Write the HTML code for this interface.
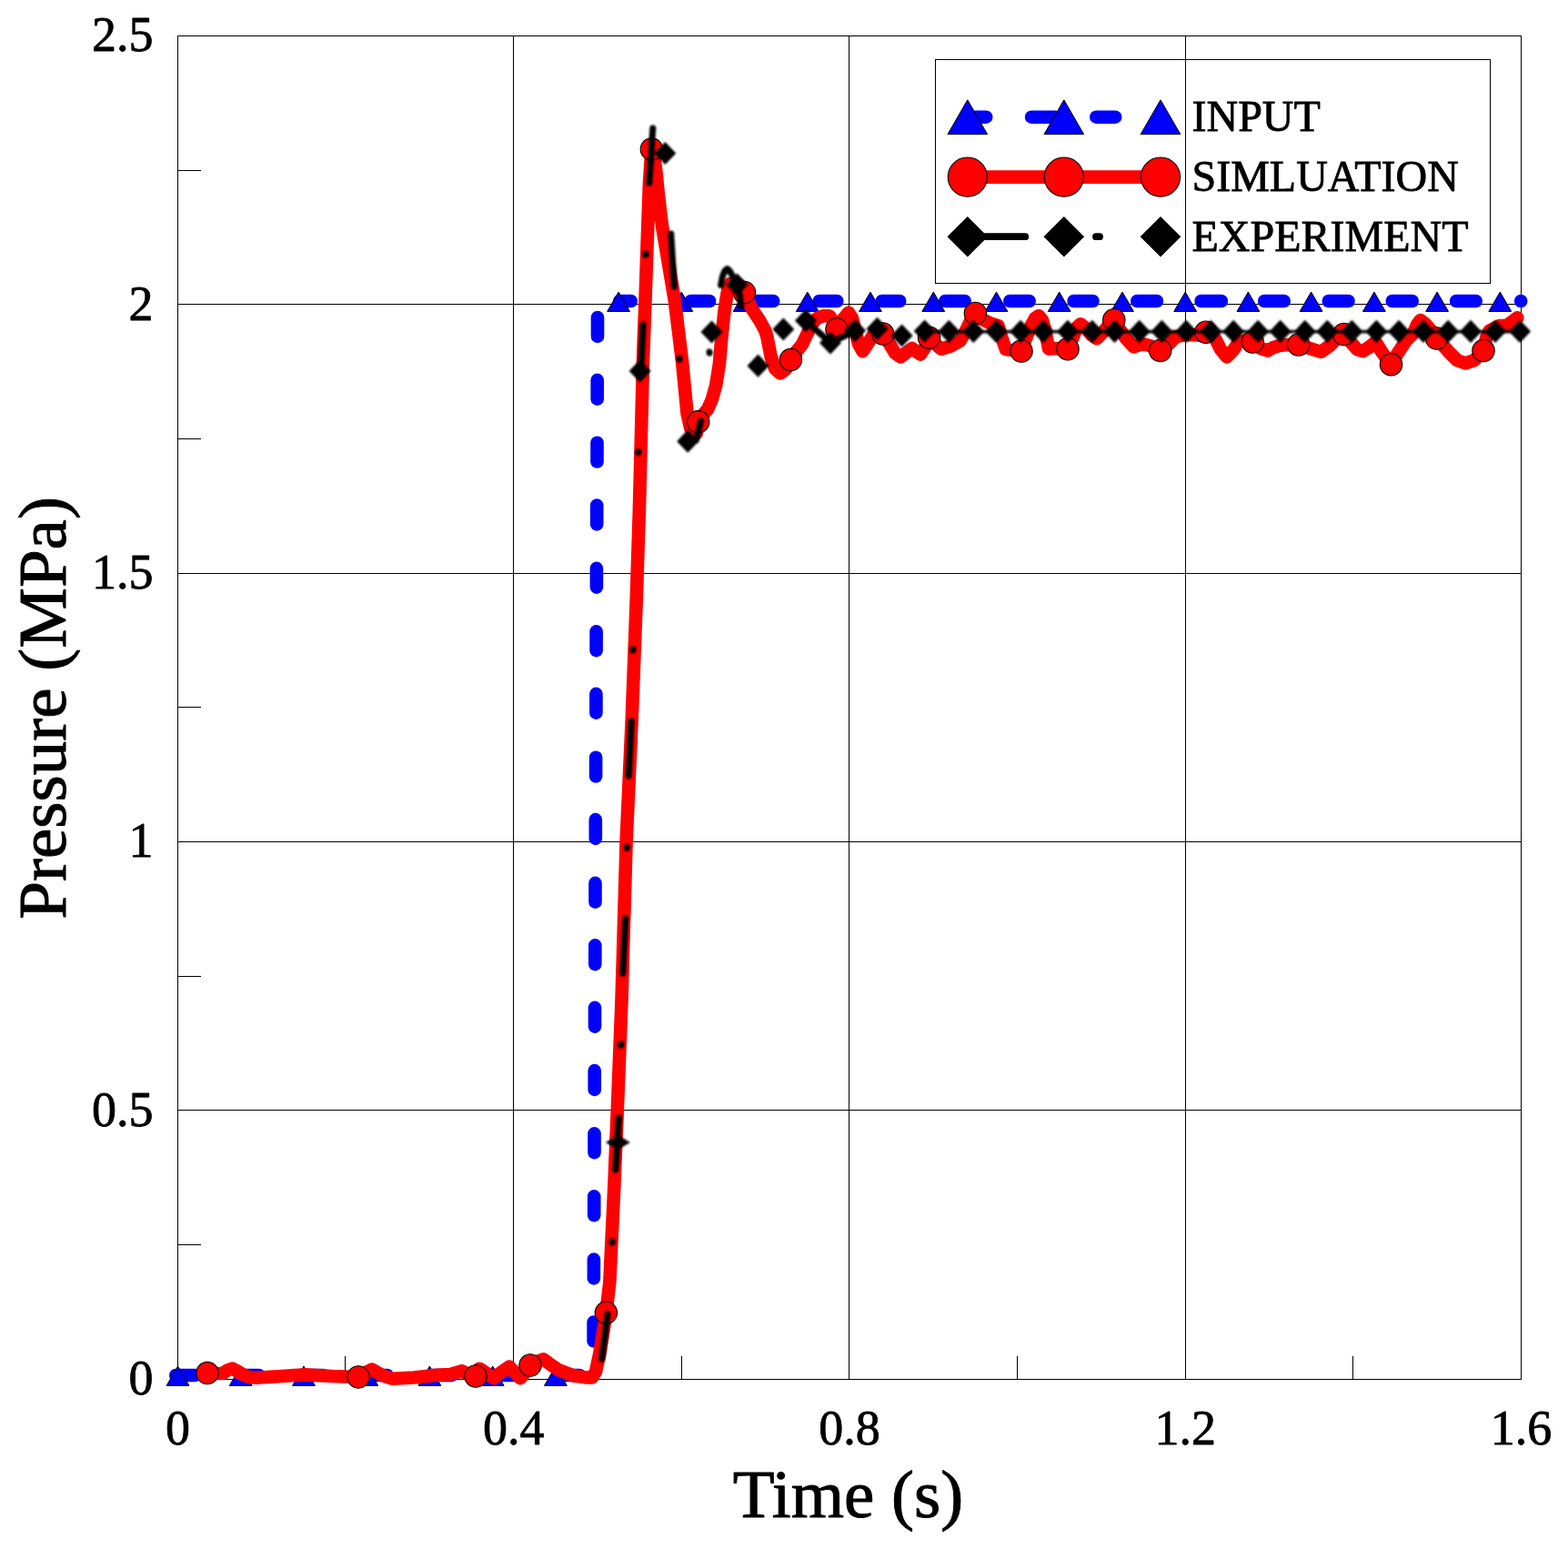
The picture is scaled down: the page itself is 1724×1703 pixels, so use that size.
<!DOCTYPE html>
<html lang="en"><head><meta charset="utf-8"><title>Pressure vs Time</title>
<style>
html,body{margin:0;padding:0;background:#fff;}
body{width:1724px;height:1703px;overflow:hidden;}
svg{display:block;}
text{font-family:"Liberation Serif","Times New Roman",serif;fill:#000;stroke:#000;stroke-width:0.8px;stroke-linejoin:round;}
.axis{stroke-width:1px;}
.tick{font-size:54px;}
.axis{font-size:75px;}
.leg{font-size:48px;}
.grid line,.grid rect{stroke:#000;stroke-width:1;fill:none;shape-rendering:crispEdges;}
.blue{stroke:#0000ff;stroke-width:14.6;stroke-linecap:round;fill:none;}
.red{stroke:#ff0000;stroke-width:14.6;stroke-linecap:round;stroke-linejoin:round;fill:none;}
.blk{stroke:#000;stroke-width:7;stroke-linecap:round;stroke-linejoin:round;fill:none;}
.tri{fill:#0000ff;stroke:#000;stroke-width:1;}
.cir{fill:#ff0000;stroke:#000;stroke-width:1.1;}
.dia{fill:#000;stroke:none;}
</style></head><body>
<svg width="1724" height="1703" viewBox="0 0 1724 1703" role="img" aria-label="Pressure versus time chart">
<defs><filter id="soft" x="600" y="100" width="1124" height="1450" filterUnits="userSpaceOnUse"><feGaussianBlur stdDeviation="1.1"/></filter></defs>
<rect x="0" y="0" width="1724" height="1703" fill="#fff"/>
<g class="grid">
<rect x="195.5" y="39.5" width="1477.0" height="1477.0"/>
<line x1="564.5" y1="39.5" x2="564.5" y2="1516.5"/>
<line x1="933.5" y1="39.5" x2="933.5" y2="1516.5"/>
<line x1="1303.5" y1="39.5" x2="1303.5" y2="1516.5"/>
<line x1="195.5" y1="334.5" x2="1672.5" y2="334.5"/>
<line x1="195.5" y1="630.5" x2="1672.5" y2="630.5"/>
<line x1="195.5" y1="925.5" x2="1672.5" y2="925.5"/>
<line x1="195.5" y1="1220.5" x2="1672.5" y2="1220.5"/>
<line x1="379.5" y1="1490.5" x2="379.5" y2="1516.5"/>
<line x1="749.5" y1="1490.5" x2="749.5" y2="1516.5"/>
<line x1="1118.5" y1="1490.5" x2="1118.5" y2="1516.5"/>
<line x1="1487.5" y1="1490.5" x2="1487.5" y2="1516.5"/>
<line x1="195.5" y1="187.5" x2="220.5" y2="187.5"/>
<line x1="195.5" y1="482.5" x2="220.5" y2="482.5"/>
<line x1="195.5" y1="777.5" x2="220.5" y2="777.5"/>
<line x1="195.5" y1="1073.5" x2="220.5" y2="1073.5"/>
<line x1="195.5" y1="1368.5" x2="220.5" y2="1368.5"/>
</g>
<g class="tick" text-anchor="end">
<text x="168.5" y="56.2">2.5</text>
<text x="168.5" y="351.6">2</text>
<text x="168.5" y="647.0">1.5</text>
<text x="168.5" y="942.4">1</text>
<text x="168.5" y="1237.8">0.5</text>
<text x="168.5" y="1533.2">0</text>
</g>
<g class="tick" text-anchor="middle">
<text x="195.5" y="1588.3">0</text>
<text x="564.8" y="1588.3">0.4</text>
<text x="934.0" y="1588.3">0.8</text>
<text x="1303.2" y="1588.3">1.2</text>
<text x="1672.5" y="1588.3">1.6</text>
</g>
<text class="axis" text-anchor="middle" x="932.4" y="1668.2">Time (s)</text>
<text class="axis" text-anchor="middle" transform="translate(72.3 778.4) rotate(-90)">Pressure (MPa)</text>
<g id="input">
<line class="blue" x1="193.3" y1="1512.0" x2="214.2" y2="1512.0"/>
<line class="blue" x1="263.8" y1="1512.0" x2="284.7" y2="1512.0"/>
<line class="blue" x1="334.3" y1="1512.0" x2="355.2" y2="1512.0"/>
<line class="blue" x1="404.8" y1="1512.0" x2="425.7" y2="1512.0"/>
<line class="blue" x1="475.3" y1="1512.0" x2="496.2" y2="1512.0"/>
<line class="blue" x1="545.8" y1="1512.0" x2="566.7" y2="1512.0"/>
<line class="blue" x1="616.3" y1="1512.0" x2="637.2" y2="1512.0"/>
<line class="blue" x1="657.0" y1="349.0" x2="657.0" y2="369.8"/>
<line class="blue" x1="656.7" y1="417.9" x2="656.7" y2="438.7"/>
<line class="blue" x1="656.5" y1="486.7" x2="656.5" y2="507.5"/>
<line class="blue" x1="656.2" y1="555.6" x2="656.2" y2="576.4"/>
<line class="blue" x1="655.9" y1="624.8" x2="655.9" y2="645.6"/>
<line class="blue" x1="655.6" y1="694.4" x2="655.6" y2="715.2"/>
<line class="blue" x1="655.4" y1="762.9" x2="655.4" y2="783.7"/>
<line class="blue" x1="655.1" y1="832.7" x2="655.1" y2="853.5"/>
<line class="blue" x1="654.8" y1="901.1" x2="654.8" y2="921.9"/>
<line class="blue" x1="654.5" y1="970.9" x2="654.5" y2="991.7"/>
<line class="blue" x1="654.3" y1="1039.3" x2="654.3" y2="1060.1"/>
<line class="blue" x1="654.0" y1="1107.8" x2="654.0" y2="1128.6"/>
<line class="blue" x1="653.7" y1="1177.1" x2="653.7" y2="1197.9"/>
<line class="blue" x1="653.5" y1="1246.3" x2="653.5" y2="1267.1"/>
<line class="blue" x1="653.2" y1="1315.3" x2="653.2" y2="1336.1"/>
<line class="blue" x1="652.9" y1="1384.6" x2="652.9" y2="1405.4"/>
<line class="blue" x1="652.6" y1="1453.6" x2="652.6" y2="1474.4"/>
<line class="blue" x1="681.3" y1="331.0" x2="693.7" y2="331.0"/>
<line class="blue" x1="759.6" y1="331.0" x2="780.1" y2="331.0"/>
<line class="blue" x1="829.3" y1="331.0" x2="850.2" y2="331.0"/>
<line class="blue" x1="900.8" y1="331.0" x2="920.3" y2="331.0"/>
<line class="blue" x1="969.7" y1="331.0" x2="989.2" y2="331.0"/>
<line class="blue" x1="1039.3" y1="331.0" x2="1060.7" y2="331.0"/>
<line class="blue" x1="1110.3" y1="331.0" x2="1131.7" y2="331.0"/>
<line class="blue" x1="1180.6" y1="331.0" x2="1201.5" y2="331.0"/>
<line class="blue" x1="1250.3" y1="331.0" x2="1271.9" y2="331.0"/>
<line class="blue" x1="1320.6" y1="331.0" x2="1342.9" y2="331.0"/>
<line class="blue" x1="1390.2" y1="331.0" x2="1411.7" y2="331.0"/>
<line class="blue" x1="1460.8" y1="331.0" x2="1482.5" y2="331.0"/>
<line class="blue" x1="1530.8" y1="331.0" x2="1552.7" y2="331.0"/>
<line class="blue" x1="1601.1" y1="331.0" x2="1622.7" y2="331.0"/>
<circle cx="1672.2" cy="331.0" r="7.3" fill="#0000ff"/>
<polygon class="tri" points="195.5,1502.0 207.9,1523.4 183.1,1523.4"/>
<polygon class="tri" points="264.7,1502.0 277.1,1523.4 252.3,1523.4"/>
<polygon class="tri" points="334.0,1502.0 346.4,1523.4 321.6,1523.4"/>
<polygon class="tri" points="403.2,1502.0 415.6,1523.4 390.8,1523.4"/>
<polygon class="tri" points="472.4,1502.0 484.8,1523.4 460.0,1523.4"/>
<polygon class="tri" points="541.7,1502.0 554.1,1523.4 529.3,1523.4"/>
<polygon class="tri" points="610.9,1502.0 623.3,1523.4 598.5,1523.4"/>
<polygon class="tri" points="680.1,321.0 692.5,342.4 667.7,342.4"/>
<polygon class="tri" points="749.3,321.0 761.7,342.4 736.9,342.4"/>
<polygon class="tri" points="818.6,321.0 831.0,342.4 806.2,342.4"/>
<polygon class="tri" points="887.8,321.0 900.2,342.4 875.4,342.4"/>
<polygon class="tri" points="957.0,321.0 969.4,342.4 944.6,342.4"/>
<polygon class="tri" points="1026.3,321.0 1038.7,342.4 1013.9,342.4"/>
<polygon class="tri" points="1095.5,321.0 1107.9,342.4 1083.1,342.4"/>
<polygon class="tri" points="1164.7,321.0 1177.1,342.4 1152.3,342.4"/>
<polygon class="tri" points="1234.0,321.0 1246.4,342.4 1221.5,342.4"/>
<polygon class="tri" points="1303.2,321.0 1315.6,342.4 1290.8,342.4"/>
<polygon class="tri" points="1372.4,321.0 1384.8,342.4 1360.0,342.4"/>
<polygon class="tri" points="1441.6,321.0 1454.0,342.4 1429.2,342.4"/>
<polygon class="tri" points="1510.9,321.0 1523.3,342.4 1498.5,342.4"/>
<polygon class="tri" points="1580.1,321.0 1592.5,342.4 1567.7,342.4"/>
<polygon class="tri" points="1649.3,321.0 1661.7,342.4 1636.9,342.4"/>
</g>
<g id="simulation">
<polyline class="red" points="228.0,1509.6 240.0,1510.0 244.8,1510.0 250.0,1506.5 255.3,1504.6 261.0,1507.5 267.4,1511.5 274.0,1514.0 281.0,1514.8 310.0,1513.0 335.0,1511.3 365.0,1513.0 394.0,1514.0 402.0,1509.0 409.0,1505.6 415.0,1509.0 420.0,1512.0 431.0,1515.7 455.0,1514.5 480.0,1511.7 495.0,1511.0 502.0,1509.0 508.0,1507.3 513.0,1510.0 517.0,1513.0 523.0,1513.0 527.0,1504.7 531.0,1507.0 535.0,1510.0 543.0,1515.0 552.0,1508.0 560.0,1502.6 567.0,1510.0 572.0,1515.3 578.0,1508.0 583.0,1501.0 590.0,1497.0 597.5,1494.3 605.0,1500.0 614.0,1506.0 631.0,1512.6 645.0,1514.4 651.0,1514.5 655.0,1508.0 659.4,1487.6 663.0,1465.0 666.4,1443.2 670.3,1410.0 675.2,1306.7 678.8,1220.4 683.5,1100.0 688.6,925.4 694.8,789.0 699.7,660.0 702.9,560.0 707.0,397.0 709.4,332.0 711.8,262.0 714.0,200.0 716.4,164.0 719.0,172.0 721.0,185.0 724.0,215.0 728.0,248.5 735.0,290.0 742.0,332.0 750.0,397.0 755.6,455.0 759.0,470.0 763.0,478.0 766.0,476.0 767.7,463.8 773.0,456.0 778.0,450.0 782.5,440.0 787.2,423.5 790.9,400.0 793.5,370.0 796.7,340.0 800.0,320.0 803.0,312.0 808.0,311.0 813.0,314.0 818.4,321.6 827.0,340.0 835.0,352.0 841.3,363.5 843.3,370.0 847.5,391.4 852.0,405.0 858.0,410.5 864.0,406.0 869.4,395.6 876.0,386.0 882.0,378.7 887.5,367.0 893.4,355.2 899.0,349.5 905.0,347.3 911.7,347.2 916.0,353.0 920.0,362.0 926.0,352.0 933.0,343.7 937.0,350.0 940.0,362.0 944.0,378.0 948.5,386.2 954.0,378.0 959.6,369.0 965.0,366.0 970.7,367.0 978.0,378.0 984.0,388.0 990.2,392.4 996.0,388.0 1002.7,383.0 1007.0,386.0 1012.0,389.6 1017.0,382.0 1021.6,371.2 1028.0,378.0 1034.8,383.7 1046.0,380.2 1055.7,374.7 1061.3,365.0 1067.0,353.0 1072.4,344.5 1080.0,351.0 1089.0,355.5 1097.5,358.3 1101.0,370.0 1105.8,384.0 1114.0,385.0 1123.0,386.0 1128.0,372.0 1133.6,358.0 1138.0,350.0 1142.0,347.2 1146.0,352.0 1149.0,362.0 1153.0,383.4 1163.0,383.0 1174.0,383.7 1180.0,370.0 1184.0,360.0 1188.0,356.2 1195.0,362.0 1200.0,368.0 1206.0,372.2 1214.0,364.0 1220.0,356.0 1224.8,351.7 1231.0,362.0 1238.0,372.0 1246.5,381.3 1256.0,378.0 1264.0,380.0 1275.7,385.4 1285.0,378.0 1292.4,370.5 1303.5,368.0 1317.5,368.4 1325.8,365.2 1336.0,372.0 1342.0,384.0 1348.8,392.4 1356.0,385.0 1362.0,376.0 1370.0,374.0 1377.3,376.0 1386.0,383.0 1394.0,385.5 1400.0,382.0 1406.5,380.0 1415.0,379.0 1427.7,379.1 1440.0,383.0 1452.5,386.9 1462.0,380.0 1470.0,372.0 1477.6,367.4 1485.0,376.0 1492.0,384.0 1498.5,386.2 1505.0,382.0 1512.4,376.0 1520.0,388.0 1529.5,400.8 1537.0,388.0 1545.8,374.7 1554.0,366.3 1558.0,357.0 1561.8,352.0 1568.0,357.0 1573.6,363.5 1579.6,371.9 1586.0,379.0 1593.0,387.0 1602.0,396.0 1611.2,399.4 1621.0,396.0 1631.0,385.4 1634.0,372.0 1637.7,363.5 1648.8,358.0 1657.0,358.0 1662.0,354.0 1668.3,349.3"/>
<circle class="cir" cx="228.0" cy="1509.6" r="12.2"/>
<circle class="cir" cx="394.0" cy="1514.0" r="12.2"/>
<circle class="cir" cx="523.0" cy="1513.0" r="12.2"/>
<circle class="cir" cx="583.0" cy="1501.0" r="12.2"/>
<circle class="cir" cx="666.4" cy="1443.2" r="12.2"/>
<circle class="cir" cx="716.4" cy="164.0" r="12.2"/>
<circle class="cir" cx="767.7" cy="463.8" r="12.2"/>
<circle class="cir" cx="818.4" cy="321.6" r="12.2"/>
<circle class="cir" cx="869.4" cy="395.6" r="12.2"/>
<circle class="cir" cx="920.0" cy="362.0" r="12.2"/>
<circle class="cir" cx="970.7" cy="367.0" r="12.2"/>
<circle class="cir" cx="1021.6" cy="371.2" r="12.2"/>
<circle class="cir" cx="1072.4" cy="344.5" r="12.2"/>
<circle class="cir" cx="1123.0" cy="386.0" r="12.2"/>
<circle class="cir" cx="1174.0" cy="383.7" r="12.2"/>
<circle class="cir" cx="1224.8" cy="351.7" r="12.2"/>
<circle class="cir" cx="1275.7" cy="385.4" r="12.2"/>
<circle class="cir" cx="1325.8" cy="365.2" r="12.2"/>
<circle class="cir" cx="1377.3" cy="376.0" r="12.2"/>
<circle class="cir" cx="1427.7" cy="379.1" r="12.2"/>
<circle class="cir" cx="1477.6" cy="367.4" r="12.2"/>
<circle class="cir" cx="1529.5" cy="400.8" r="12.2"/>
<circle class="cir" cx="1579.6" cy="371.9" r="12.2"/>
<circle class="cir" cx="1631.0" cy="385.4" r="12.2"/>
</g>
<g id="experiment" filter="url(#soft)">
<line class="blk" x1="661.8" y1="1494.0" x2="668.0" y2="1445.0"/>
<line class="blk" x1="673.1" y1="1366.0" x2="673.2" y2="1365.0"/>
<line class="blk" x1="676.9" y1="1286.0" x2="680.4" y2="1229.0"/>
<line class="blk" x1="682.7" y1="1149.0" x2="682.8" y2="1148.0"/>
<line class="blk" x1="684.7" y1="1070.0" x2="687.7" y2="1010.0"/>
<line class="blk" x1="689.1" y1="932.3" x2="689.2" y2="931.3"/>
<line class="blk" x1="691.2" y1="853.0" x2="694.1" y2="793.0"/>
<line class="blk" x1="695.9" y1="714.8" x2="696.0" y2="713.8"/>
<line class="blk" x1="701.8" y1="497.5" x2="701.9" y2="496.5"/>
<line class="blk" x1="705.0" y1="402.0" x2="707.0" y2="357.0"/>
<line class="blk" x1="710.0" y1="280.0" x2="710.1" y2="279.0"/>
<line class="blk" x1="713.9" y1="201.0" x2="717.8" y2="141.0"/>
<line class="blk" x1="737.7" y1="257.0" x2="741.3" y2="315.0"/>
<line class="blk" x1="747.0" y1="394.0" x2="747.1" y2="395.0"/>
<line class="blk" x1="780.0" y1="387.0" x2="780.1" y2="388.0"/>
<line class="blk" x1="765.5" y1="484.0" x2="770.6" y2="462.8"/>
<polyline class="blk" points="792.6,313.5 794.7,303.0 797.0,297.5 799.6,295.6 802.0,297.5 805.2,303.0 811.1,314.6 813.5,325.8 814.6,337.0"/>
<polyline class="blk" points="885.8,352.9 912.8,376.4 939.9,364.6"/>
<line x1="1016.7" y1="364.6" x2="1671" y2="364.6" stroke="#000" stroke-width="3.6" opacity="0.9"/>
<polygon class="dia" points="679.4,1248.1 692.9,1256.1 679.4,1264.1 665.9,1256.1"/>
<polygon class="dia" points="703.7,395.3 715.7,407.9 703.7,420.5 691.7,407.9"/>
<polygon class="dia" points="731.3,155.9 743.3,168.5 731.3,181.1 719.3,168.5"/>
<polygon class="dia" points="756.2,472.6 768.2,485.2 756.2,497.8 744.2,485.2"/>
<polygon class="dia" points="782.5,352.4 794.5,365.0 782.5,377.6 770.5,365.0"/>
<polygon class="dia" points="810.5,300.4 822.5,313.0 810.5,325.6 798.5,313.0"/>
<polygon class="dia" points="833.5,389.6 845.5,402.2 833.5,414.8 821.5,402.2"/>
<polygon class="dia" points="861.3,349.4 873.3,362.0 861.3,374.6 849.3,362.0"/>
<polygon class="dia" points="886.0,339.8 898.0,352.4 886.0,365.0 874.0,352.4"/>
<polygon class="dia" points="913.0,364.4 925.0,377.0 913.0,389.6 901.0,377.0"/>
<polygon class="dia" points="940.1,350.9 952.1,363.5 940.1,376.1 928.1,363.5"/>
<polygon class="dia" points="964.5,348.8 976.5,361.4 964.5,374.0 952.5,361.4"/>
<polygon class="dia" points="991.6,356.4 1003.6,369.0 991.6,381.6 979.6,369.0"/>
<polygon class="dia" points="1016.7,351.4 1028.7,364.0 1016.7,376.6 1004.7,364.0"/>
<polygon class="dia" points="1043.4,351.8 1055.4,364.4 1043.4,377.0 1031.4,364.4"/>
<polygon class="dia" points="1070.3,351.8 1082.3,364.4 1070.3,377.0 1058.3,364.4"/>
<polygon class="dia" points="1095.4,351.8 1107.4,364.4 1095.4,377.0 1083.4,364.4"/>
<polygon class="dia" points="1122.2,351.8 1134.2,364.4 1122.2,377.0 1110.2,364.4"/>
<polygon class="dia" points="1146.9,351.8 1158.9,364.4 1146.9,377.0 1134.9,364.4"/>
<polygon class="dia" points="1174.0,351.8 1186.0,364.4 1174.0,377.0 1162.0,364.4"/>
<polygon class="dia" points="1200.9,351.8 1212.9,364.4 1200.9,377.0 1188.9,364.4"/>
<polygon class="dia" points="1225.5,351.8 1237.5,364.4 1225.5,377.0 1213.5,364.4"/>
<polygon class="dia" points="1252.7,351.8 1264.7,364.4 1252.7,377.0 1240.7,364.4"/>
<polygon class="dia" points="1277.4,351.8 1289.4,364.4 1277.4,377.0 1265.4,364.4"/>
<polygon class="dia" points="1304.2,351.8 1316.2,364.4 1304.2,377.0 1292.2,364.4"/>
<polygon class="dia" points="1331.4,351.8 1343.4,364.4 1331.4,377.0 1319.4,364.4"/>
<polygon class="dia" points="1356.2,351.8 1368.2,364.4 1356.2,377.0 1344.2,364.4"/>
<polygon class="dia" points="1383.2,351.8 1395.2,364.4 1383.2,377.0 1371.2,364.4"/>
<polygon class="dia" points="1407.7,351.8 1419.7,364.4 1407.7,377.0 1395.7,364.4"/>
<polygon class="dia" points="1434.8,351.8 1446.8,364.4 1434.8,377.0 1422.8,364.4"/>
<polygon class="dia" points="1459.3,351.8 1471.3,364.4 1459.3,377.0 1447.3,364.4"/>
<polygon class="dia" points="1486.4,351.8 1498.4,364.4 1486.4,377.0 1474.4,364.4"/>
<polygon class="dia" points="1513.4,351.8 1525.4,364.4 1513.4,377.0 1501.4,364.4"/>
<polygon class="dia" points="1538.1,351.8 1550.1,364.4 1538.1,377.0 1526.1,364.4"/>
<polygon class="dia" points="1565.0,351.8 1577.0,364.4 1565.0,377.0 1553.0,364.4"/>
<polygon class="dia" points="1592.2,351.8 1604.2,364.4 1592.2,377.0 1580.2,364.4"/>
<polygon class="dia" points="1617.0,351.8 1629.0,364.4 1617.0,377.0 1605.0,364.4"/>
<polygon class="dia" points="1644.0,351.8 1656.0,364.4 1644.0,377.0 1632.0,364.4"/>
<polygon class="dia" points="1671.1,351.8 1683.1,364.4 1671.1,377.0 1659.1,364.4"/>
</g>
<g id="legend">
<g class="grid"><rect x="1028.5" y="65.5" width="610" height="246"/></g>
<line class="blue" x1="1064" y1="128.7" x2="1084.2" y2="128.7"/>
<line class="blue" x1="1134.1" y1="128.7" x2="1160" y2="128.7"/>
<line class="blue" x1="1205.3" y1="128.7" x2="1226.2" y2="128.7"/>
<polygon class="tri" points="1063.8,109.8 1085.6,147.6 1042.0,147.6"/>
<polygon class="tri" points="1169.8,109.8 1191.6,147.6 1148.0,147.6"/>
<polygon class="tri" points="1276.0,109.8 1297.8,147.6 1254.2,147.6"/>
<line class="red" x1="1063.8" y1="194.6" x2="1276.0" y2="194.6"/>
<circle class="cir" cx="1063.8" cy="194.6" r="21.6"/>
<circle class="cir" cx="1169.8" cy="194.6" r="21.6"/>
<circle class="cir" cx="1276.0" cy="194.6" r="21.6"/>
<line class="blk" style="stroke-width:7.8" x1="1064" y1="260.2" x2="1127.3" y2="260.2"/>
<line class="blk" style="stroke-width:7.8" x1="1205.0" y1="260.2" x2="1209.0" y2="260.2"/>
<polygon class="dia" points="1063.8,237.9 1086.1,260.2 1063.8,282.5 1041.5,260.2"/>
<polygon class="dia" points="1169.8,237.9 1192.1,260.2 1169.8,282.5 1147.5,260.2"/>
<polygon class="dia" points="1276.0,237.9 1298.3,260.2 1276.0,282.5 1253.7,260.2"/>
<g class="leg">
<text x="1310.5" y="144.2">INPUT</text>
<text x="1310.5" y="209.9">SIMLUATION</text>
<text x="1310.5" y="275.7">EXPERIMENT</text>
</g></g>
</svg>
</body></html>
